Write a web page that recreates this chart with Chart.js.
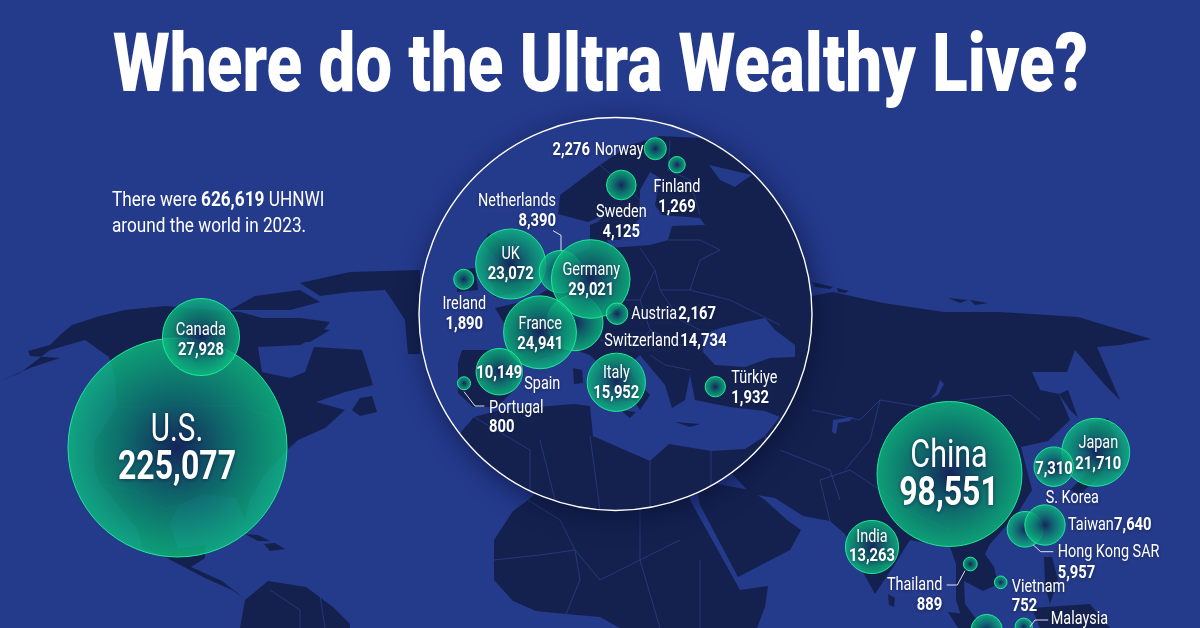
<!DOCTYPE html>
<html>
<head>
<meta charset="utf-8">
<title>Where do the Ultra Wealthy Live?</title>
<script src="https://cdn.jsdelivr.net/npm/chart.js@4/dist/chart.umd.min.js"></script>
<style>
  html, body { margin: 0; padding: 0; background: #243a8b; }
  canvas { display: block; }
</style>
</head>
<body>
<canvas id="mapa" width="1200" height="628"></canvas>
<script>
// UHNWI per country (the last two sit under the bottom edge, estimated)
const countries = ['U.S.', 'Canada', 'Norway', 'Finland', 'Sweden', 'UK', 'Netherlands', 'Switzerland', 'Germany', 'Ireland', 'Austria', 'France', 'Spain', 'Portugal', 'Italy', 'Türkiye', 'China', 'Japan', 'S. Korea', 'Hong Kong SAR', 'Taiwan', 'India', 'Thailand', 'Vietnam', 'Malaysia', 'Singapore'];
const values = [225077, 27928, 2276, 1269, 4125, 23072, 8390, 14734, 29021, 1890, 2167, 24941, 10149, 800, 15952, 1932, 98551, 21710, 7310, 5957, 7640, 13263, 889, 752, 1400, 4600];
// where each country sits on the map grid (1200 x 628 units)
const mapX = [177.5, 201, 655.3, 677, 621.3, 510.7, 560.3, 575, 590.7, 463.7, 617, 540, 499.3, 464, 616.3, 715.3, 949.5, 1095.7, 1053.7, 1025, 1045, 872, 970.3, 1000.7, 1023.7, 986.7];
const mapY = [447.5, 337, 148.7, 164.7, 185, 264, 271.7, 322.7, 279, 279.3, 313.7, 332.3, 371.7, 383.3, 382.3, 386.7, 474, 452.3, 466.7, 529.3, 525, 547, 564, 582.3, 626.7, 630];

const SEA = '#243a8b', LAND = '#14214f', BORDER = '#2a3d85';
const AREA_K = 0.2308; // px of radius per sqrt(UHNWI)

// rough world outline on the map grid
const worldLand = [
  // North America + Central America
  [[0,381],[30,368],[60,358],[30,356],[28,351],[50,345],[60,335],[72,325],[100,316],[125,310],[165,306],[240,312],[262,318],[300,318],[330,322],[320,335],[300,345],[258,347],[262,372],[290,378],[305,372],[314,347],[362,350],[373,385],[345,392],[316,402],[345,410],[325,428],[298,440],[287,450],[262,478],[250,500],[245,520],[236,498],[205,494],[178,505],[170,525],[178,548],[205,545],[205,558],[191,567],[222,581],[245,599],[232,590],[205,578],[165,557],[142,547],[138,530],[110,495],[101,484],[94,470],[94,442],[117,407],[115,377],[109,357],[85,340],[50,350],[20,373]],
  // arctic islands + Greenland
  [[230,310],[255,296],[300,290],[320,302],[290,310]],
  [[300,283],[350,272],[420,270],[420,354],[408,354],[405,320],[392,300],[385,290],[350,292],[320,296]],
  [[265,335],[310,328],[330,330],[310,342],[275,342]],
  [[360,398],[372,396],[377,412],[360,416],[352,410]],
  // Cuba, Hispaniola
  [[245,534],[258,535],[270,541],[258,541]],
  [[264,544],[275,543],[285,549],[270,551]],
  // South America
  [[245,600],[268,581],[306,587],[333,607],[350,624],[350,628],[240,628]],
  // Africa
  [[494,540],[513,511],[528,500],[560,470],[690,470],[690,500],[740,590],[768,586],[765,607],[757,628],[620,628],[600,617],[566,614],[536,611],[513,601],[494,580]],
  // Arabia
  [[695,480],[750,490],[765,500],[787,520],[801,530],[790,550],[738,577],[700,505]],
  // Eurasia
  [[700,300],[812,296],[833,292],[883,303],[944,312],[1000,312],[1078,317],[1151,339],[1120,345],[1097,347],[1120,400],[1105,385],[1075,350],[1067,372],[1032,372],[1040,390],[1059,394],[1070,420],[1048,441],[1021,447],[1032,490],[1017,514],[990,544],[985,554],[994,567],[998,584],[983,591],[964,581],[965,604],[983,628],[965,628],[956,600],[956,564],[950,547],[910,540],[895,564],[875,594],[864,574],[845,534],[830,521],[803,516],[775,498],[751,494],[700,440]],
  // islands of east and south-east Asia
  [[1059,394],[1068,390],[1078,418],[1070,410]],
  [[888,594],[895,598],[894,607],[889,605]],
  [[1044,557],[1052,557],[1058,580],[1050,604],[1045,585]],
  [[1032,608],[1090,604],[1110,628],[1040,628]],
  [[948,612],[965,614],[983,628],[958,628]],
  [[812,282],[833,287],[830,289],[815,287]],
  [[837,288],[849,291],[845,293],[838,292]],
  [[948,298],[968,300],[960,303]],
  [[970,300],[988,303],[975,305]],
  [[1088,425],[1108,418],[1118,445],[1100,475],[1080,495],[1070,490],[1095,465]]
];
const worldLakes = [
  [[833,420],[853,417],[850,421],[838,423],[836,434],[832,432]],
  [[940,380],[944,384],[938,395],[930,399],[936,392]]
];
const worldBorders = [
  [[117,407],[240,406],[280,420]],
  [[101,484],[130,490],[150,498],[165,510],[178,505]],
  [[528,500],[560,520],[575,550],[600,580],[640,560],[680,540]],
  [[494,560],[540,555],[575,550],[580,580],[566,614]],
  [[640,470],[640,560],[660,628]],
  [[700,560],[700,628]],
  [[812,410],[860,420],[880,400],[940,410],[960,400],[1010,395],[1040,420]],
  [[830,521],[820,480],[850,470],[880,490],[905,510],[950,530]],
  [[845,470],[870,440],[880,400]],
  [[780,450],[830,470],[840,500]],
  [[270,590],[300,610],[300,628]],
  [[320,595],[325,628]]
];

// Europe blown up inside the circle
const INSET = { x: 615.5, y: 314, r: 196.5 };
const insetLand = [
  // Iberia, west and north Europe, Russia, Türkiye and the Middle East
  [[473,407],[458,393],[458,363],[462,350],[507,350],[508,330],[495,308],[530,300],[555,285],[562,260],[590,248],[590,225],[598,222],[606,214],[588,222],[558,214],[560,195],[600,165],[630,145],[660,136],[700,138],[725,145],[745,165],[780,170],[850,200],[850,460],[790,460],[765,436],[780,417],[765,411],[730,407],[695,400],[690,375],[685,400],[672,408],[665,385],[640,355],[625,368],[650,395],[640,410],[630,395],[610,375],[590,355],[575,350],[545,358],[520,365],[517,387],[497,407]],
  // UK, Ireland
  [[488,233],[505,240],[515,262],[535,275],[530,290],[495,297],[490,275],[500,262],[484,245]],
  [[457,270],[475,268],[478,290],[457,292]],
  // Africa
  [[461,432],[474,417],[500,410],[574,404],[590,406],[593,436],[650,461],[669,444],[711,451],[745,449],[765,436],[775,530],[461,530]],
  // islands of the Med
  [[573,368],[582,370],[583,383],[574,384]],
  [[620,410],[636,412],[630,418]],
  [[675,422],[700,424],[690,427]]
];
const insetSeas = [
  // Baltic
  [[650,172],[660,178],[655,205],[662,215],[700,218],[705,225],[672,226],[668,240],[650,245],[610,248],[607,240],[620,240],[640,218],[640,190]],
  // White Sea
  [[709,165],[752,175],[740,183],[735,187],[720,180]],
  // Black Sea
  [[703,335],[720,328],[745,322],[765,318],[775,330],[795,345],[795,357],[770,358],[745,367],[715,365],[703,352]]
];
const insetBorders = [
  [[600,165],[640,200],[640,218]],
  [[670,140],[668,170],[690,180],[700,215]],
  [[668,240],[700,240],[720,250],[700,260],[690,290]],
  [[640,248],[655,270],[660,290],[690,290],[730,300],[780,325]],
  [[655,270],[640,300],[620,300]],
  [[660,290],[680,320],[700,330]],
  [[640,300],[650,330],[680,345],[700,345]],
  [[600,340],[640,345],[650,330]],
  [[650,355],[665,365],[690,370]],
  [[540,440],[560,520]],[[590,436],[600,510]],[[650,461],[650,520]],[[711,451],[711,520]],
  [[474,417],[530,450],[530,520]]
];
// little pointer lines from a label to its bubble
const leaders = [
  [[553,230.7],[561,235.3],[561,250.7]],
  [[464,391.7],[475,406],[484.3,406]],
  [[1033.3,545],[1040.7,551.7],[1053.3,551.7]],
  [[946.7,585],[957.3,585],[965,570.7]],
  [[1048.3,620],[1035,620],[1030,626.7]]
];
// where the labels go: [x, baseline, align, font size]
const nameSpot = {
  'U.S.': [177,440.7,'center',38], 'Canada': [201,334.7,'center',19], 'Norway': [594.7,155,'left',18.5],
  'Finland': [677,192,'center',18.5], 'Sweden': [621.3,217.3,'center',18.5], 'UK': [510.7,259.3,'center',18.5],
  'Netherlands': [556,206,'right',18.5], 'Switzerland': [604.3,346.3,'left',18.5], 'Germany': [591.3,274.7,'center',18.5],
  'Ireland': [464.3,309.3,'center',18.5], 'Austria': [631.3,319.3,'left',18.5], 'France': [540.3,329,'center',18.5],
  'Spain': [542.3,388.7,'center',18.5], 'Portugal': [489,413.3,'left',18.5], 'Italy': [616.3,378,'center',18.5],
  'Türkiye': [731.3,383.3,'left',18.5], 'China': [949,466.7,'center',39], 'Japan': [1098.3,448.3,'center',18.5],
  'S. Korea': [1072.3,502.7,'center',18.5], 'Hong Kong SAR': [1057.7,557.3,'left',18.5], 'Taiwan': [1068,530,'left',18.5],
  'India': [872,541.7,'center',18.5], 'Thailand': [942.3,590.3,'right',18.5], 'Vietnam': [1011.7,591.7,'left',18.5],
  'Malaysia': [1050.7,624,'left',18.5]
};
const valueSpot = {
  'U.S.': [177,479,'center',40], 'Canada': [201,354.7,'center',18.5], 'Norway': [590,155,'right',18.5],
  'Finland': [677,212.3,'center',18.5], 'Sweden': [621.3,237.3,'center',18.5], 'UK': [510.7,279.3,'center',18.5],
  'Netherlands': [556,225.7,'right',18.5], 'Switzerland': [680.3,346.3,'left',18.5], 'Germany': [591.3,294.7,'center',18.5],
  'Ireland': [464.3,329,'center',18.5], 'Austria': [678.3,319.3,'left',18.5], 'France': [540.3,348.7,'center',18.5],
  'Spain': [499.3,378.3,'center',18.5], 'Portugal': [489,432.3,'left',18.5], 'Italy': [616.3,398.3,'center',18.5],
  'Türkiye': [731.3,403,'left',18.5], 'China': [949,505,'center',40], 'Japan': [1098.3,469,'center',18.5],
  'S. Korea': [1054,474.3,'center',18.5], 'Hong Kong SAR': [1057.7,577.7,'left',18.5], 'Taiwan': [1114,530,'left',18.5],
  'India': [872,561,'center',18.5], 'Thailand': [942.3,610,'right',18.5], 'Vietnam': [1011.7,611.3,'left',18.5]
};

function tracePoly(ctx, sx, sy, pts) {
  ctx.beginPath();
  pts.forEach(function (p, i) {
    if (i === 0) ctx.moveTo(sx.getPixelForValue(p[0]), sy.getPixelForValue(p[1]));
    else ctx.lineTo(sx.getPixelForValue(p[0]), sy.getPixelForValue(p[1]));
  });
}

function paintShapes(ctx, sx, sy, land, seas, borders) {
  ctx.fillStyle = LAND;
  land.forEach(function (p) { tracePoly(ctx, sx, sy, p); ctx.closePath(); ctx.fill(); });
  ctx.strokeStyle = BORDER;
  ctx.lineWidth = 0.8;
  borders.forEach(function (p) { tracePoly(ctx, sx, sy, p); ctx.stroke(); });
  ctx.fillStyle = SEA;
  seas.forEach(function (p) { tracePoly(ctx, sx, sy, p); ctx.closePath(); ctx.fill(); });
}

// the font has no condensed cut, so squeeze it sideways
function narrowText(ctx, txt, x, y, align, font, squeeze) {
  ctx.save();
  ctx.translate(x, y);
  ctx.scale(squeeze, 1);
  ctx.font = font;
  ctx.textAlign = align;
  ctx.textBaseline = 'alphabetic';
  ctx.fillText(txt, 0, 0);
  ctx.restore();
}

const backdrop = {
  id: 'backdrop',
  beforeDatasetsDraw(chart) {
    const { ctx, scales: { x, y } } = chart;
    ctx.save();
    ctx.fillStyle = SEA;
    ctx.fillRect(0, 0, chart.width, chart.height);
    paintShapes(ctx, x, y, worldLand, worldLakes, worldBorders);

    const cx = x.getPixelForValue(INSET.x), cy = y.getPixelForValue(INSET.y);
    // disc with soft shadow
    ctx.save();
    ctx.shadowColor = 'rgba(8,14,50,0.65)';
    ctx.shadowBlur = 26;
    ctx.shadowOffsetX = 3;
    ctx.shadowOffsetY = 6;
    ctx.fillStyle = SEA;
    ctx.beginPath();
    ctx.arc(cx, cy, INSET.r, 0, Math.PI * 2);
    ctx.fill();
    ctx.restore();

    ctx.save();
    ctx.beginPath();
    ctx.arc(cx, cy, INSET.r, 0, Math.PI * 2);
    ctx.clip();
    paintShapes(ctx, x, y, insetLand, insetSeas, insetBorders);
    ctx.restore();

    ctx.strokeStyle = '#ffffff';
    ctx.lineWidth = 1.4;
    ctx.beginPath();
    ctx.arc(cx, cy, INSET.r, 0, Math.PI * 2);
    ctx.stroke();
    ctx.restore();
  }
};

const captions = {
  id: 'captions',
  afterDatasetsDraw(chart) {
    const { ctx, scales: { x, y } } = chart;
    ctx.save();
    ctx.fillStyle = '#ffffff';

    // title, squeezed to its real width
    const titulo = 'Where do the Ultra Wealthy Live?';
    ctx.font = '900 81px Roboto';
    const anchoTitulo = ctx.measureText(titulo).width;
    narrowText(ctx, titulo, 600.5, 90.5, 'center', '900 81px Roboto', 975 / anchoTitulo);

    // intro text
    const regular = '400 20px Roboto', bold = '700 20px Roboto', sq = 0.86;
    let px = 112;
    [['There were ', regular], ['626,619', bold], [' UHNWI', regular]].forEach(function (s) {
      narrowText(ctx, s[0], px, 205.5, 'left', s[1], sq);
      ctx.font = s[1];
      px += ctx.measureText(s[0]).width * sq;
    });
    narrowText(ctx, 'around the world in 2023.', 112, 231.5, 'left', regular, sq);

    // leader lines
    ctx.strokeStyle = 'rgba(255,255,255,0.85)';
    ctx.lineWidth = 1;
    leaders.forEach(function (p) { tracePoly(ctx, x, y, p); ctx.stroke(); });

    // country labels
    ctx.shadowColor = 'rgba(6,20,60,0.6)';
    ctx.shadowBlur = 4;
    ctx.shadowOffsetY = 1;
    countries.forEach(function (name, i) {
      const n = nameSpot[name], v = valueSpot[name];
      if (n) narrowText(ctx, name, x.getPixelForValue(n[0]), y.getPixelForValue(n[1]), n[2], '400 ' + n[3] + 'px Roboto', 0.78);
      if (v) narrowText(ctx, values[i].toLocaleString('en-US'), x.getPixelForValue(v[0]), y.getPixelForValue(v[1]), v[2], '700 ' + v[3] + 'px Roboto', 0.8);
    });
    ctx.restore();
  }
};

function bubbleFill(context) {
  const chart = context.chart, raw = context.raw;
  if (!raw || !chart.chartArea) return '#0fa67d';
  const cx = chart.scales.x.getPixelForValue(raw.x), cy = chart.scales.y.getPixelForValue(raw.y);
  const g = chart.ctx.createRadialGradient(cx, cy, 0, cx, cy, raw.r);
  g.addColorStop(0, 'rgba(20,36,92,0.95)');
  g.addColorStop(0.45, 'rgba(13,112,110,0.86)');
  g.addColorStop(1, 'rgba(12,190,128,0.8)');
  return g;
}

new Chart(document.getElementById('mapa'), {
  type: 'bubble',
  data: {
    datasets: [{
      label: 'UHNWI',
      data: values.map(function (v, i) {
        return { x: mapX[i], y: mapY[i], r: Math.sqrt(v) * AREA_K };
      }),
      backgroundColor: bubbleFill,
      borderColor: '#1ee896',
      borderWidth: 1,
      hoverRadius: 0,
      clip: false
    }]
  },
  options: {
    responsive: false,
    animation: false,
    layout: { autoPadding: false, padding: 0 },
    events: [],
    plugins: { legend: { display: false }, tooltip: { enabled: false } },
    scales: {
      x: { type: 'linear', min: 0, max: 1200, display: false },
      y: { type: 'linear', min: 0, max: 628, reverse: true, display: false }
    }
  },
  plugins: [backdrop, captions]
});
</script>
</body>
</html>
